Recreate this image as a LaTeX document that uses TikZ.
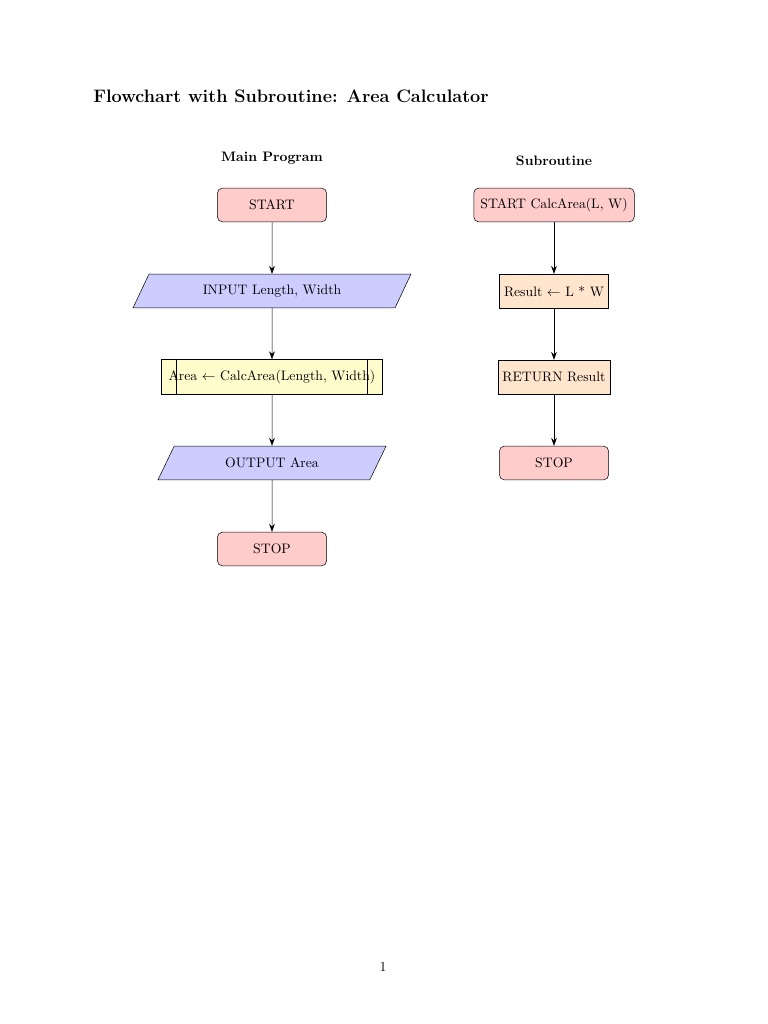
\documentclass[11pt,tikz,border=0pt]{standalone}
\usepackage{amsmath, amssymb}
\usetikzlibrary{positioning,arrows.meta,shapes.geometric}
\tikzset{
  flowarrow/.style={-{Stealth[length=2.2mm,width=1.6mm]}, thin},
  termbox/.style={draw, rounded corners=4pt, fill=red!20, minimum width=87pt, minimum height=27pt, align=center},
  iobox/.style={draw, trapezium, trapezium left angle=66, trapezium right angle=114, trapezium stretches=true, fill=blue!20, minimum height=27pt, align=center},
  callbox/.style={draw, fill=yellow!20, minimum width=176pt, minimum height=28pt, inner sep=1pt, align=center},
  procbox/.style={draw, fill=orange!20, minimum height=27pt, inner xsep=3.5pt, align=center},
  headlabel/.style={font=\bfseries}
}

\begin{document}
\begin{tikzpicture}[x=0.7975pt, y=-0.7975pt]
  \useasboundingbox (0,0) rectangle (768,1024);
  \node[anchor=base west, font=\Large\bfseries, inner sep=0pt] (title) at (93,102) {Flowchart with Subroutine: Area Calculator};
  \node[headlabel] (mainhead) at (272,158) {Main Program};
  \node[headlabel] (subhead) at (554,161) {Subroutine};

  \node[termbox] (start) at (272,205) {START};
  \node[iobox, minimum width=222pt] (input) at (272,291) {INPUT Length, Width};
  \node[callbox] (call) at (272,377) {Area $\leftarrow$ CalcArea(Length, Width)};
  \draw ([xshift=12pt]call.north west) -- ([xshift=12pt]call.south west);
  \draw ([xshift=-12pt]call.north east) -- ([xshift=-12pt]call.south east);
  \node[iobox, minimum width=183pt] (output) at (272,463) {OUTPUT Area};
  \node[termbox] (stop) at (272,549) {STOP};
  \draw[flowarrow] (start) -- (input);
  \draw[flowarrow] (input) -- (call);
  \draw[flowarrow] (call) -- (output);
  \draw[flowarrow] (output) -- (stop);

  \node[termbox, minimum width=128pt, inner xsep=2pt] (substart) at (554,205) {START CalcArea(L, W)};
  \node[procbox] (calc) at (554,291) {Result $\leftarrow$ L * W};
  \node[procbox] (ret) at (554,377) {RETURN Result};
  \node[termbox] (substop) at (554,463) {STOP};
  \draw[flowarrow] (substart) -- (calc);
  \draw[flowarrow] (calc) -- (ret);
  \draw[flowarrow] (ret) -- (substop);

  \node (pagenum) at (383,967) {1};
\end{tikzpicture}
\end{document}
